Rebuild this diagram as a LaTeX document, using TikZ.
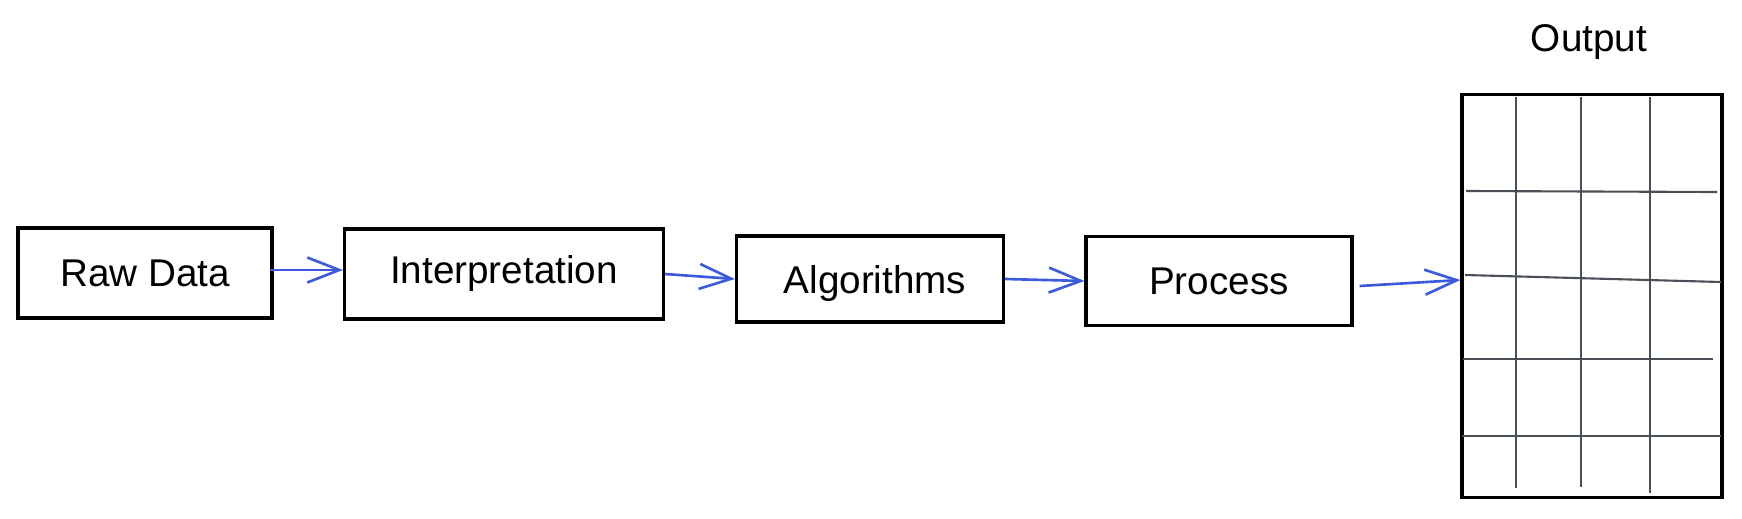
\documentclass[tikz,border=0pt]{standalone}
\usepackage{fontspec}
\setmainfont{Liberation Sans}
\usetikzlibrary{arrows.meta,positioning,calc}
\definecolor{flowblue}{RGB}{59,91,219}
\definecolor{cellgray}{RGB}{73,80,87}
\tikzset{
  stage/.style={draw=black,line width=1.8pt,inner sep=0pt,font=\fontsize{22}{26}\selectfont},
  flow/.style={flowblue,line width=1.5pt,-{Straight Barb[length=0.64cm,width=0.5cm,line width=1.5pt]}},
  cell/.style={cellgray,line width=1.2pt}
}
\begin{document}
\begin{tikzpicture}[x=0.02cm,y=-0.02cm]
\useasboundingbox (0,0) rectangle (1742,518);
% stages
\node[stage,minimum width=5.08cm,minimum height=1.8cm] (raw) at (145,273) {Raw Data};
\node[stage,minimum width=6.38cm,minimum height=1.8cm] (interp) at (504,274) {Interpretation};
\node[stage,minimum width=5.34cm,minimum height=1.72cm,text depth=0pt] (algo) at (870,279) {\hspace{0.2cm}Algorithms};
\node[stage,minimum width=5.32cm,minimum height=1.78cm] (proc) at (1219,281) {Process};
% output table
\node[draw=black,line width=1.8pt,minimum width=5.2cm,minimum height=8.06cm] (out) at (1592,296) {};
\node[font=\fontsize{22}{26}\selectfont] (outlbl) at (1589,42) {Output};
\foreach \x/\y in {1516/488,1581/487,1650/493}
  \draw[cell] (\x,97) -- (\x,\y);
\draw[cell] (1466,191) -- (1717,192);
\draw[cell] (1465,275) -- (1721,282);
\draw[cell] (1463,359) -- (1713,359);
\draw[cell] (1462,436) -- (1721,436);
% arrows
\draw[flow] ($(raw.east)+(-4,-3)$) -- (interp.west |- {$(raw.east)+(0,-3)$});
\draw[flow] (interp.east) -- (algo.west);
\draw[flow] (algo.east) -- (proc.west);
\draw[flow] ($(proc.east)+(6,5)$) -- (out.west |- {$(proc.east)+(0,-1)$});
\end{tikzpicture}
\end{document}
